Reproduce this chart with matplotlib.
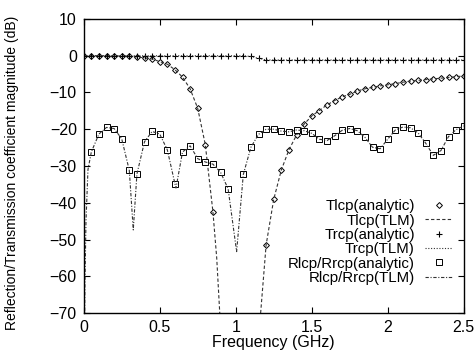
import numpy as np
import matplotlib
matplotlib.use("Agg")
import matplotlib.pyplot as plt

plt.rcParams['font.family'] = ['Liberation Sans', 'DejaVu Sans']

# ---------------------------------------------------------------------------
# Data, frequency in GHz, magnitude in dB
# ---------------------------------------------------------------------------
freq = np.linspace(0, 2.5, 51)

tlcp_analytic = [0.0, 0.0, 0.0, 0.0, -0.05, -0.1, -0.2, -0.3, -0.6, -0.9,
                 -1.6, -2.3, -3.8, -5.8, -9.0, -14.3, -24.2, -42.4, np.nan, np.nan,
                 np.nan, np.nan, np.nan, np.nan, -51.5, -39.1, -31.1, -25.6, -21.6, -18.6,
                 -16.4, -14.9, -13.4, -12.2, -11.2, -10.5, -9.6, -9.0, -8.6, -8.2,
                 -7.9, -7.6, -7.2, -6.9, -6.7, -6.5, -6.3, -6.1, -5.9, -5.7,
                 -5.5]

trcp_analytic = [0.0] * 22 + [-0.2, -0.7] + [-1.15] * 27

rcp_analytic = [np.nan, -26.2, -21.3, -19.5, -19.8, -22.6, -31.2, -32.2, -23.4, -20.6,
                -21.3, -25.6, -34.8, -26.2, -24.5, -28.0, -28.9, -29.5, -31.7, -36.2,
                np.nan, -32.3, -24.9, -21.4, -20.0, -20.0, -20.5, -20.7, -20.2, -20.4,
                -21.1, -22.7, -23.1, -21.8, -20.3, -19.8, -20.4, -22.2, -24.9, -25.3,
                -22.7, -20.2, -19.4, -19.6, -21.0, -23.8, -27.1, -25.8, -22.0, -20.1,
                -19.1]

# TLM curves: same samples plus the extra points at the notches
tlcp_notch_f  = [0.875, 0.895, 0.91, 1.15, 1.164]
tlcp_notch_db = [-55.0, -70.0, -80.0, -80.0, -70.0]

rcp_notch_f  = [0.004, 0.008, 0.015, 0.028, 0.326, 0.607, 1.006]
rcp_notch_db = [-80.0, -62.0, -45.0, -31.0, -47.4, -36.0, -53.3]


def merge(f, v, f_extra, v_extra):
    ff = np.concatenate([f, f_extra])
    vv = np.concatenate([np.asarray(v, float), v_extra])
    keep = ~np.isnan(vv)
    order = np.argsort(ff[keep])
    return ff[keep][order], vv[keep][order]


tlcp_tlm_f, tlcp_tlm = merge(freq, tlcp_analytic, tlcp_notch_f, tlcp_notch_db)
rcp_tlm_f, rcp_tlm = merge(freq, rcp_analytic, rcp_notch_f, rcp_notch_db)

# ---------------------------------------------------------------------------
# Plot
# ---------------------------------------------------------------------------
fig = plt.figure(figsize=(4.74, 3.53), dpi=100)
ax = fig.add_axes([0.1766, 0.1133, 0.8017, 0.8329])

line_col = "#333333"
ax.plot(freq, tlcp_analytic, "D", ms=3, mfc="white", mec="black", mew=0.7,
        label="Tlcp(analytic)")
ax.plot(tlcp_tlm_f, tlcp_tlm, ls=(0, (3, 2)), color=line_col, lw=0.8,
        label="Tlcp(TLM)")
ax.plot(freq, trcp_analytic, "+", ms=4, mec="black", mew=0.8,
        label="Trcp(analytic)")
ax.plot(freq, trcp_analytic, ls=(0, (1, 1.5)), color=line_col, lw=0.8,
        label="Trcp(TLM)")
ax.plot(freq, rcp_analytic, "s", ms=4, mfc="white", mec="black", mew=0.7,
        label="Rlcp/Rrcp(analytic)")
ax.plot(rcp_tlm_f, rcp_tlm, ls=(0, (3, 1.5, 1, 1.5)), color=line_col, lw=0.8,
        label="Rlcp/Rrcp(TLM)")

ax.set_xlim(0, 2.5)
ax.set_ylim(-70, 10)
ax.set_xticks([0, 0.5, 1, 1.5, 2, 2.5])
ax.set_xticklabels(["0", "0.5", "1", "1.5", "2", "2.5"])
ax.set_yticks(np.arange(-70, 11, 10))
ax.tick_params(direction="in", top=True, right=True, length=4, width=0.8,
               labelsize=11.5, pad=5)
for s in ax.spines.values():
    s.set_linewidth(1.0)

ax.set_xlabel("Frequency (GHz)", fontsize=11.5, labelpad=0)
ax.set_ylabel("Reflection/Transmission coefficient magnitude (dB)", fontsize=10)
ax.yaxis.set_label_coords(-0.17, 0.475)

leg = ax.legend(loc="lower right", bbox_to_anchor=(0.99, 0.07), frameon=False,
                markerfirst=False, fontsize=10.8, labelspacing=0.02,
                handlelength=1.8, handletextpad=0.7, borderpad=0)

fig.savefig("out.png", dpi=100)
